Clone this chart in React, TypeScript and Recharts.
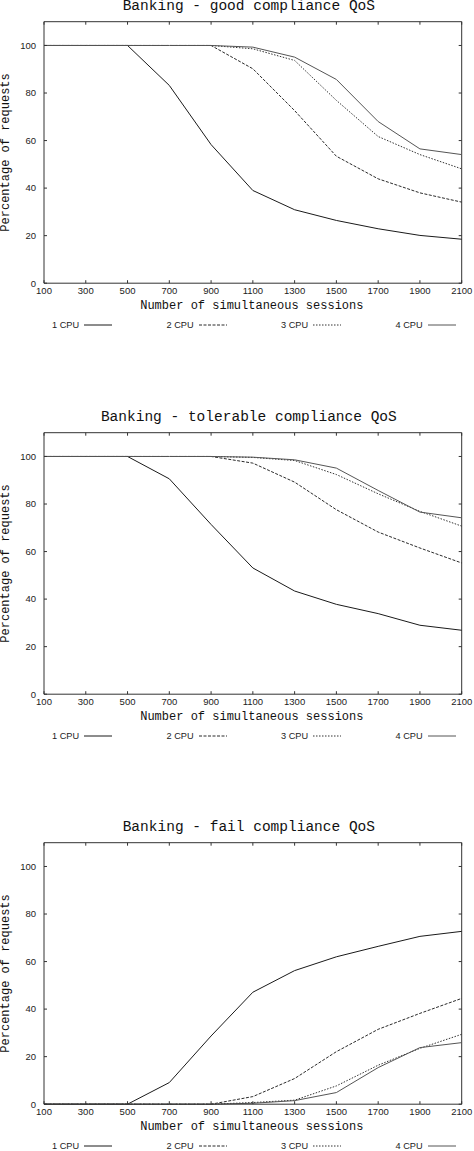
import { LineChart, Line, XAxis, YAxis, ReferenceLine } from "recharts";

// x positions (simultaneous sessions)
const SESSIONS = [100, 300, 500, 700, 900, 1100, 1300, 1500, 1700, 1900, 2100];
const PCT_TICKS = [0, 20, 40, 60, 80, 100];

// good compliance QoS
const GOOD_1CPU = [100, 100, 100, 83.2, 58.3, 39, 30.9, 26.4, 22.9, 20.1, 18.5];
const GOOD_2CPU = [100, 100, 100, 100, 100, 90.2, 72.6, 53.4, 43.9, 38, 34.1];
const GOOD_3CPU = [100, 100, 100, 100, 100, 98.6, 93.7, 76.9, 61.7, 54.1, 48.1];
const GOOD_4CPU = [100, 100, 100, 100, 100, 99.3, 95.1, 85.7, 68, 56.5, 54.1];

// tolerable compliance QoS
const TOL_1CPU = [100, 100, 100, 90.6, 71.4, 53.1, 43.4, 37.8, 33.9, 29, 26.9];
const TOL_2CPU = [100, 100, 100, 100, 100, 97.2, 89.2, 77.6, 68.2, 61.5, 55.2];
const TOL_3CPU = [100, 100, 100, 100, 100, 99.6, 98.3, 92.4, 84.3, 76.9, 70.7];
const TOL_4CPU = [100, 100, 100, 100, 100, 99.7, 98.6, 95.1, 85.7, 76.6, 74.2];

// fail compliance QoS
const FAIL_1CPU = [0, 0, 0, 9.1, 28.7, 47.1, 56.2, 62, 66.4, 70.6, 72.7];
const FAIL_2CPU = [0, 0, 0, 0, 0, 3.2, 10.8, 22.1, 31.5, 38.2, 44.5];
const FAIL_3CPU = [0, 0, 0, 0, 0, 0.7, 1.7, 7.7, 16.4, 23.5, 29.4];
const FAIL_4CPU = [0, 0, 0, 0, 0, 0.4, 1.5, 4.9, 15.4, 23.8, 25.9];

const SERIES_NAMES = ["1 CPU", "2 CPU", "3 CPU", "4 CPU"];

const PANELS = [
  { title: "Banking - good compliance QoS", series: [GOOD_1CPU, GOOD_2CPU, GOOD_3CPU, GOOD_4CPU] },
  { title: "Banking - tolerable compliance QoS", series: [TOL_1CPU, TOL_2CPU, TOL_3CPU, TOL_4CPU] },
  { title: "Banking - fail compliance QoS", series: [FAIL_1CPU, FAIL_2CPU, FAIL_3CPU, FAIL_4CPU] },
];

const LINE_STYLES = [
  { stroke: "#1a1a1a", dash: undefined, width: 1 },
  { stroke: "#2a2a2a", dash: "3 1.5", width: 1 },
  { stroke: "#333", dash: "1.5 1.5", width: 1 },
  { stroke: "#555", dash: undefined, width: 1 },
];

const W = 474;
const H = 345;
const PANEL_H = 410.65;
const PLOT_TOP = 21.7;
const PLOT_H = 261.5;
const PLOT_RIGHT_GAP = 12.3;
const X_AXIS_H = 30;
const Y_AXIS_W = 44;
const TICK_MARGIN_X = 4;
const TICK_MARGIN_Y = 8;
const INNER_TICK = 3;
const FRAME = "#333";
const MONO = '"Liberation Mono", "DejaVu Sans Mono", monospace';
const SANS = '"Liberation Sans", Arial, sans-serif';

function XTick(props: any) {
  const { x, y, payload } = props;
  const bottom = y - TICK_MARGIN_X;
  return (
    <g>
      <line x1={x} x2={x} y1={bottom} y2={bottom - INNER_TICK} stroke={FRAME} />
      <line x1={x} x2={x} y1={PLOT_TOP} y2={PLOT_TOP + INNER_TICK} stroke={FRAME} />
      <text x={x} y={y} dy="0.75em" textAnchor="middle" fontFamily={SANS} fontSize={9.5} fill="#222">
        {payload.value}
      </text>
    </g>
  );
}

function YTick(props: any) {
  const { x, y, payload } = props;
  const left = x + TICK_MARGIN_Y;
  const right = W - PLOT_RIGHT_GAP;
  return (
    <g>
      <line x1={left} x2={left + INNER_TICK} y1={y} y2={y} stroke={FRAME} />
      <line x1={right} x2={right - INNER_TICK} y1={y} y2={y} stroke={FRAME} />
      <text x={x} y={y} dy="0.35em" textAnchor="end" fontFamily={SANS} fontSize={9.5} fill="#222">
        {payload.value}
      </text>
    </g>
  );
}

function Panel({ title, series }: { title: string; series: number[][] }) {
  const data = SESSIONS.map((s, i) => ({
    s,
    cpu1: series[0][i],
    cpu2: series[1][i],
    cpu3: series[2][i],
    cpu4: series[3][i],
  }));
  const keys = ["cpu1", "cpu2", "cpu3", "cpu4"];

  return (
    <div style={{ position: "relative", width: W, height: PANEL_H }}>
      <div
        style={{
          position: "absolute",
          top: PLOT_TOP - 15.7 - 8,
          left: 40,
          width: W - Y_AXIS_W - PLOT_RIGHT_GAP,
          textAlign: "center",
          fontFamily: MONO,
          fontSize: 14.5,
          lineHeight: "16px",
          color: "#111",
          whiteSpace: "nowrap",
        }}
      >
        {title}
      </div>
      <LineChart
        width={W}
        height={H}
        data={data}
        margin={{ top: PLOT_TOP, right: PLOT_RIGHT_GAP, left: 0, bottom: H - PLOT_TOP - PLOT_H - X_AXIS_H }}
      >
        <XAxis
          dataKey="s"
          type="number"
          domain={[100, 2100]}
          ticks={SESSIONS}
          height={X_AXIS_H}
          stroke={FRAME}
          tickLine={false}
          tickSize={0}
          tickMargin={TICK_MARGIN_X}
          tick={<XTick />}
          interval={0}
          label={{
            content: (p: any) => (
              <text
                x={p.viewBox.x + p.viewBox.width / 2 - 1}
                y={p.viewBox.y + 23}
                textAnchor="middle"
                dominantBaseline="central"
                fontFamily={MONO}
                fontSize={12}
                fill="#111"
              >
                Number of simultaneous sessions
              </text>
            ),
          }}
        />
        <YAxis
          type="number"
          domain={[0, 110]}
          ticks={PCT_TICKS}
          width={Y_AXIS_W}
          stroke={FRAME}
          tickLine={false}
          tickSize={0}
          tickMargin={TICK_MARGIN_Y}
          tick={<YTick />}
          interval={0}
          label={{
            content: (p: any) => {
              const cx = 6;
              const cy = p.viewBox.y + p.viewBox.height / 2;
              return (
                <text
                  x={cx}
                  y={cy}
                  transform={`rotate(-90 ${cx} ${cy})`}
                  textAnchor="middle"
                  dominantBaseline="central"
                  fontFamily={MONO}
                  fontSize={12}
                  fill="#111"
                >
                  Percentage of requests
                </text>
              );
            },
          }}
        />
        <ReferenceLine y={110} stroke={FRAME} />
        <ReferenceLine x={2100} stroke={FRAME} />
        {keys.map((k, i) => (
          <Line
            key={k}
            dataKey={k}
            name={SERIES_NAMES[i]}
            type="linear"
            stroke={LINE_STYLES[i].stroke}
            strokeWidth={LINE_STYLES[i].width}
            strokeDasharray={LINE_STYLES[i].dash}
            dot={false}
            activeDot={false}
            isAnimationActive={false}
          />
        ))}
      </LineChart>
      {SERIES_NAMES.map((name, i) => (
        <div
          key={name}
          style={{
            position: "absolute",
            top: PLOT_TOP + PLOT_H + 42 - 6,
            left: 52 + i * 114.5,
            height: 12,
            display: "flex",
            alignItems: "center",
            fontFamily: SANS,
            fontSize: 9.2,
            color: "#222",
            whiteSpace: "nowrap",
          }}
        >
          <span>{name}</span>
          <svg width={34} height={6} style={{ marginLeft: 5 }}>
            <line
              x1={0}
              x2={28}
              y1={3}
              y2={3}
              stroke={LINE_STYLES[i].stroke}
              strokeWidth={LINE_STYLES[i].width}
              strokeDasharray={LINE_STYLES[i].dash}
            />
          </svg>
        </div>
      ))}
    </div>
  );
}

export default function App() {
  return (
    <div style={{ position: "absolute", top: 0, left: 0, width: W, background: "#fff" }}>
      {PANELS.map((p) => (
        <Panel key={p.title} title={p.title} series={p.series} />
      ))}
    </div>
  );
}
